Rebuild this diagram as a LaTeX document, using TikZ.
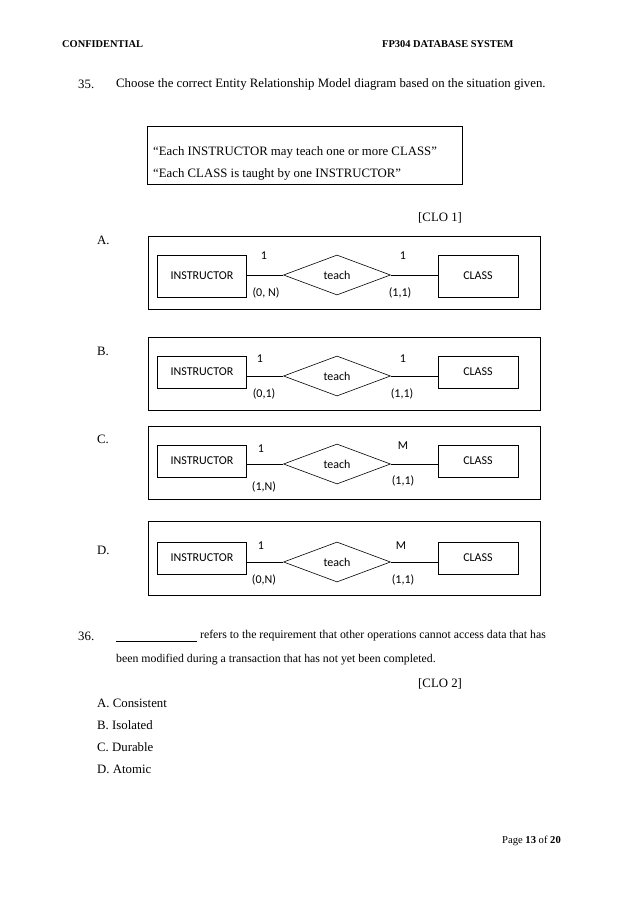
\documentclass[tikz,border=0pt]{standalone}
\usepackage{fontspec}
\setmainfont{Liberation Serif}
\newfontfamily\erfont{Carlito}
\usetikzlibrary{shapes.geometric}

\begin{document}
\begin{tikzpicture}[x=1pt, y=-1pt,
    txt/.style={anchor=west, inner sep=0pt, font=\fontsize{12.8}{15}\selectfont},
    small/.style={font=\fontsize{11.8}{14}\selectfont},
    head/.style={font=\bfseries\fontsize{10.4}{12}\selectfont},
    frame/.style={draw, line width=0.6pt},
    entity/.style={draw, line width=0.6pt, minimum width=89pt, inner sep=0pt, font=\erfont\fontsize{12}{14}\selectfont},
    rel/.style={diamond, draw, line width=0.6pt, aspect=2.7, minimum width=107pt, minimum height=40pt, inner sep=0pt, font=\erfont\fontsize{12}{14}\selectfont},
    card/.style={inner sep=0pt, font=\erfont\fontsize{12}{14}\selectfont}
]
\useasboundingbox[fill=white] (0,0) rectangle (638,902);

% header
\node[txt, head] (conf) at (62,44) {CONFIDENTIAL};
\node[txt, head] (subj) at (382,44) {FP304 DATABASE SYSTEM};

% question 35
\node[txt] (q35) at (78,84) {35.};
\node[txt] (q35t) at (116,84) {Choose the correct Entity Relationship Model diagram based on the situation given.};
\draw[frame] (147,126) rectangle (462,184);
\node[txt] (s1) at (153,152) {``Each INSTRUCTOR may teach one or more CLASS''};
\node[txt] (s2) at (153,174) {``Each CLASS is taught by one INSTRUCTOR''};
\node[txt] (clo1) at (418,218) {[CLO 1]};

% option A
\node[txt] (la) at (97,240) {A.};
\draw[frame] (148,236) rectangle (540,309);
\node[entity, minimum height=42pt] (insA) at (202,276) {INSTRUCTOR};
\node[rel] (relA) at (337,275) {teach};
\node[entity, minimum height=42pt, minimum width=80pt] (clsA) at (478,276) {CLASS};
\draw[line width=0.6pt] (insA.east |- relA) -- (relA.west);
\draw[line width=0.6pt] (relA.east) -- (clsA.west |- relA);
\node[card] (a1) at (264,256) {1};
\node[card] (a2) at (403,256) {1};
\node[card] (a3) at (266,293) {(0, N)};
\node[card] (a4) at (400,293) {(1,1)};

% option B
\node[txt] (lb) at (97,351) {B.};
\draw[frame] (148,337) rectangle (540,410);
\node[entity, minimum height=32pt] (insB) at (202,372) {INSTRUCTOR};
\node[rel] (relB) at (337,376) {teach};
\node[entity, minimum height=32pt, minimum width=80pt] (clsB) at (478,372) {CLASS};
\draw[line width=0.6pt] (insB.east |- relB) -- (relB.west);
\draw[line width=0.6pt] (relB.east) -- (clsB.west |- relB);
\node[card] (b1) at (260,359) {1};
\node[card] (b2) at (403,359) {1};
\node[card] (b3) at (264,394) {(0,1)};
\node[card] (b4) at (402,394) {(1,1)};

% option C
\node[txt] (lc) at (97,439) {C.};
\draw[frame] (148,426) rectangle (540,499);
\node[entity, minimum height=32pt] (insC) at (202,461) {INSTRUCTOR};
\node[rel] (relC) at (337,464) {teach};
\node[entity, minimum height=32pt, minimum width=80pt] (clsC) at (478,461) {CLASS};
\draw[line width=0.6pt] (insC.east |- relC) -- (relC.west);
\draw[line width=0.6pt] (relC.east) -- (clsC.west |- relC);
\node[card] (c1) at (261,449) {1};
\node[card] (c2) at (403,446) {M};
\node[card] (c3) at (264,487) {(1,N)};
\node[card] (c4) at (403,481) {(1,1)};

% option D
\node[txt] (ld) at (97,550) {D.};
\draw[frame] (148,521) rectangle (540,595);
\node[entity, minimum height=32pt] (insD) at (202,558) {INSTRUCTOR};
\node[rel] (relD) at (337,562) {teach};
\node[entity, minimum height=32pt, minimum width=80pt] (clsD) at (478,558) {CLASS};
\draw[line width=0.6pt] (insD.east |- relD) -- (relD.west);
\draw[line width=0.6pt] (relD.east) -- (clsD.west |- relD);
\node[card] (d1) at (261,546) {1};
\node[card] (d2) at (401,546) {M};
\node[card] (d3) at (264,580) {(0,N)};
\node[card] (d4) at (403,580) {(1,1)};

% question 36
\node[txt] (q36) at (78,636) {36.};
\node[txt, small] (q36t) at (116,636) {\rule[-2.5pt]{81pt}{0.9pt} refers to the requirement that other operations cannot access data that has};
\node[txt, small] (q36u) at (116,660) {been modified during a transaction that has not yet been completed.};
\node[txt] (clo2) at (418,684) {[CLO 2]};
\node[txt] (oa) at (97,703) {A.\ Consistent};
\node[txt] (ob) at (97,725) {B.\ Isolated};
\node[txt] (oc) at (97,747) {C.\ Durable};
\node[txt] (od) at (97,769) {D.\ Atomic};

% footer
\node[txt, anchor=east, font=\fontsize{10.6}{12}\selectfont] (pg) at (561,841) {Page \textbf{13} of \textbf{20}};
\end{tikzpicture}
\end{document}
